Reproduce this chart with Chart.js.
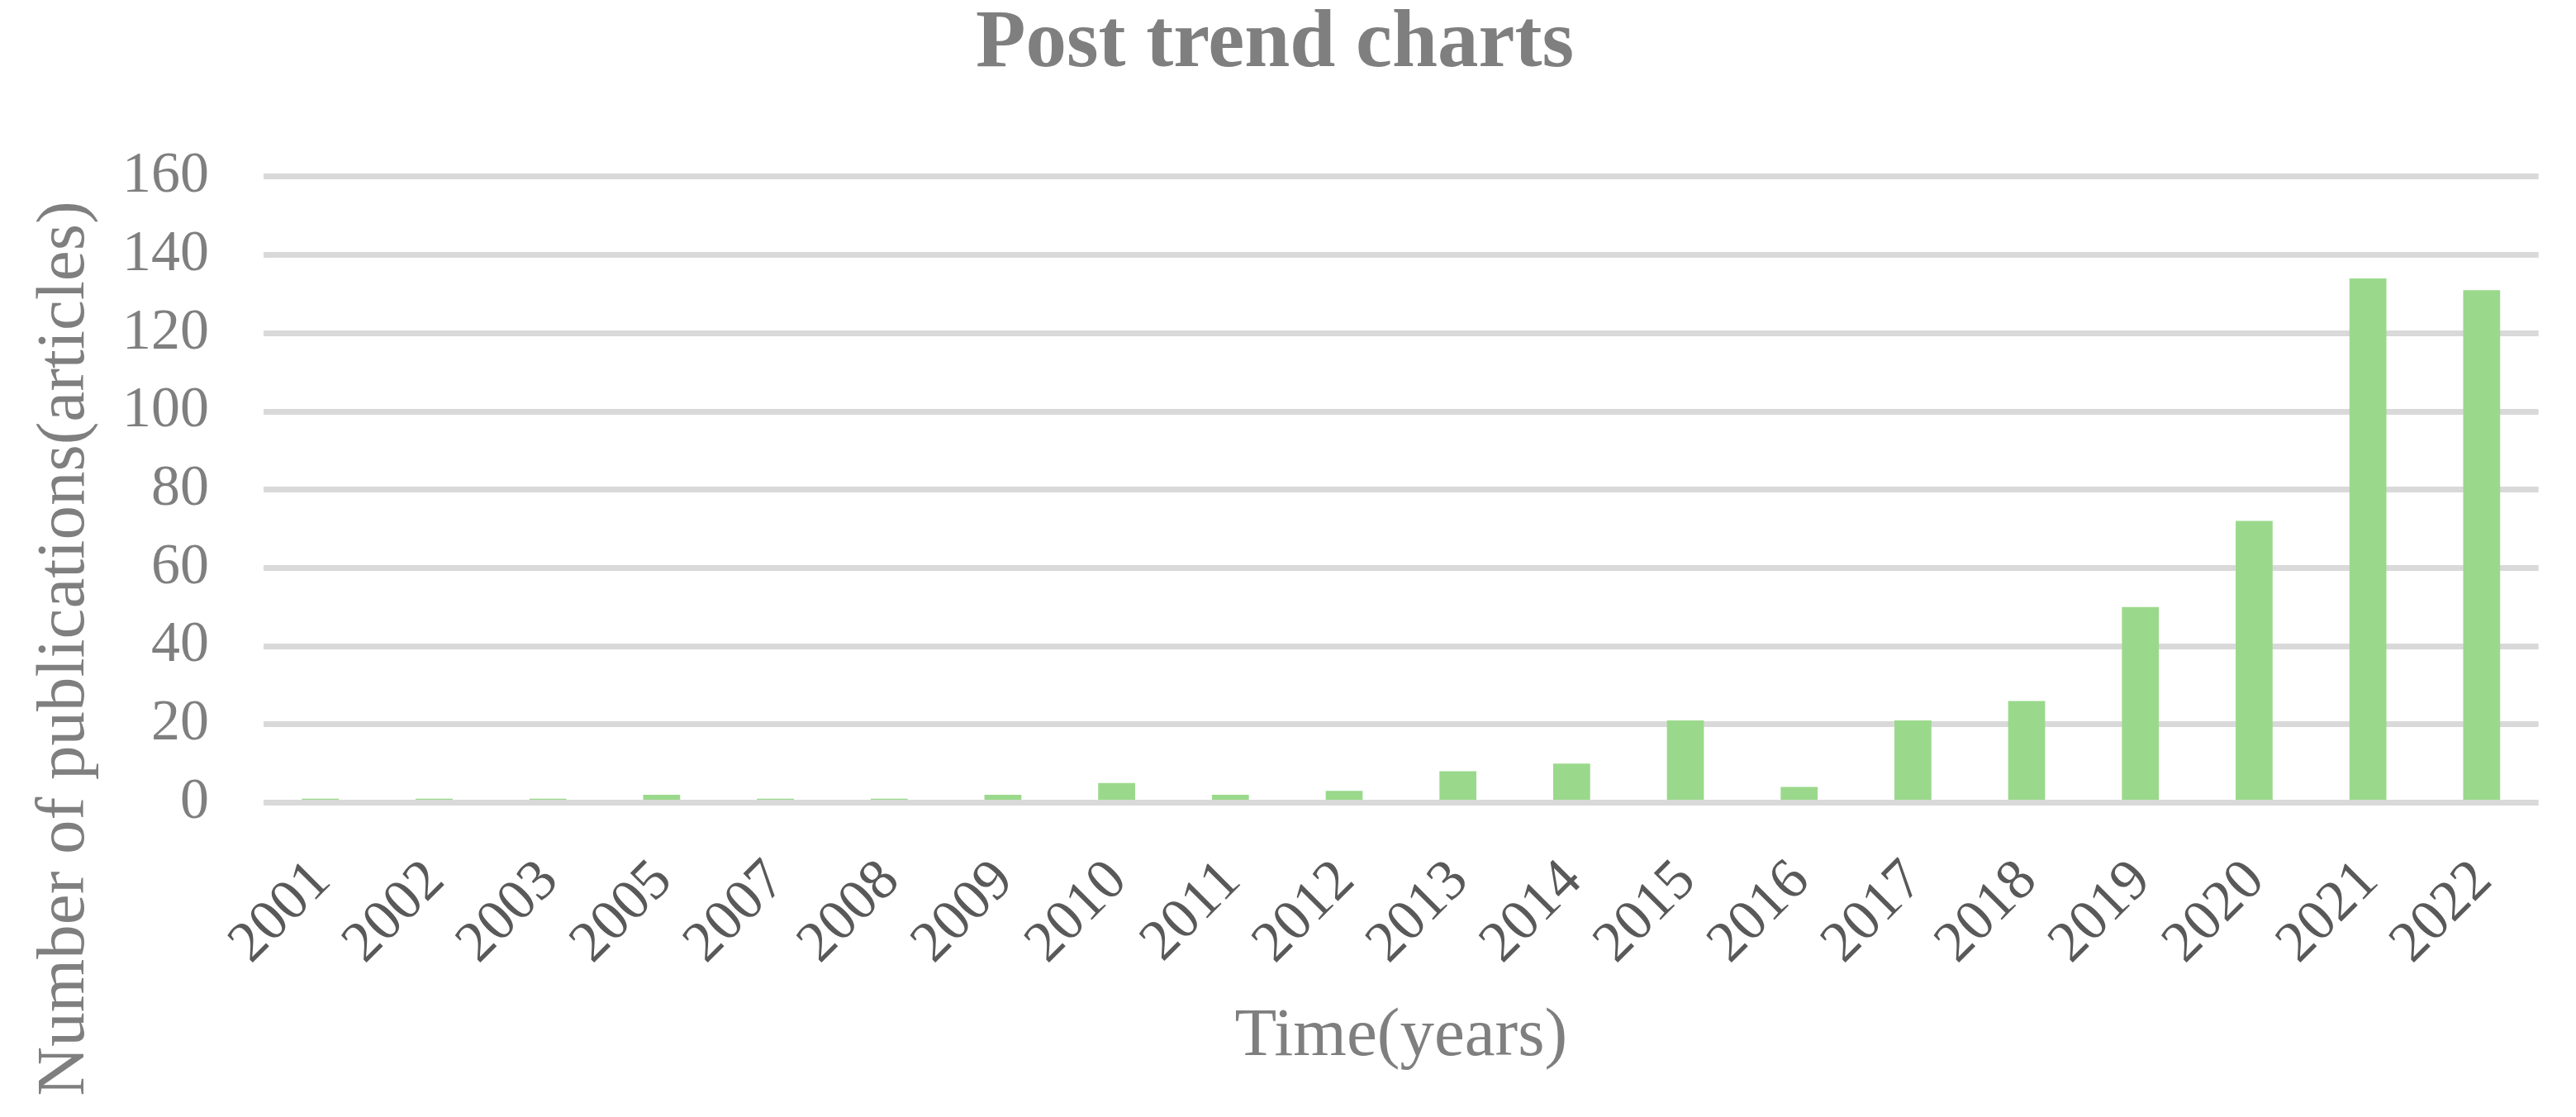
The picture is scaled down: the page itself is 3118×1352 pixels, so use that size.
<!DOCTYPE html>
<html>
<head>
<meta charset="utf-8">
<title>Post trend charts</title>
<script src="https://cdn.jsdelivr.net/npm/chart.js@4.4.1/dist/chart.umd.min.js"></script>
<style>
    html, body { margin: 0; padding: 0; background: #ffffff; }
    #wrap { width: 3118px; height: 1352px; }
</style>
</head>
<body>
<div id="wrap"><canvas id="canvas" width="3118" height="1352"></canvas></div>
<script>
// data
const years = ['2001', '2002', '2003', '2005', '2007', '2008', '2009', '2010', '2011', '2012',
               '2013', '2014', '2015', '2016', '2017', '2018', '2019', '2020', '2021', '2022'];
const publications = [1, 1, 1, 2, 1, 1, 2, 5, 2, 3, 8, 10, 21, 4, 21, 26, 50, 72, 134, 131];
const yTicks = [0, 20, 40, 60, 80, 100, 120, 140, 160];

const chartTitle = 'Post trend charts';
const xTitle = 'Time(years)';
const yTitle = 'Number of publications(articles)';

const serif = '"Liberation Serif", "Times New Roman", serif';

// the y title sits lower than the plot centre in the original, so draw it by hand
const yTitlePlugin = {
    id: 'yTitlePlugin',
    afterDraw(chart) {
        const ctx = chart.ctx;
        ctx.save();
        ctx.translate(101, 785);
        ctx.rotate(-Math.PI / 2);
        ctx.font = '83px ' + serif;
        ctx.fillStyle = '#7f7f7f';
        ctx.textAlign = 'center';
        ctx.textBaseline = 'alphabetic';
        ctx.fillText(yTitle, 0, 0);
        ctx.restore();
    }
};

const ctx = document.getElementById('canvas').getContext('2d');

new Chart(ctx, {
    type: 'bar',
    data: {
        labels: years,
        datasets: [{
            label: 'Publications',
            data: publications,
            backgroundColor: '#9ad98b',
            borderWidth: 0,
            barPercentage: 0.325,
            categoryPercentage: 1.0
        }]
    },
    plugins: [yTitlePlugin],
    options: {
        responsive: false,
        animation: false,
        devicePixelRatio: 1,
        layout: { padding: { left: 0, right: 32, top: 0, bottom: 0 } },
        plugins: {
            legend: { display: false },
            tooltip: { enabled: false },
            title: {
                display: true,
                text: chartTitle,
                color: '#7f7f7f',
                font: { family: serif, size: 99, weight: 'bold', lineHeight: 1.1 },
                padding: { top: 0, bottom: 105 }
            }
        },
        scales: {
            x: {
                grid: { display: false, drawTicks: false },
                border: { display: false },
                ticks: {
                    color: '#595959',
                    font: { family: serif, size: 70 },
                    minRotation: 45,
                    maxRotation: 45,
                    autoSkip: false,
                    padding: 54,
                    labelOffset: 2
                },
                title: {
                    display: true,
                    text: xTitle,
                    color: '#7f7f7f',
                    font: { family: serif, size: 83 },
                    padding: { top: 0, bottom: 47 }
                },
                afterFit: function (scale) {
                    scale.height = 380.5;
                }
            },
            y: {
                min: 0,
                max: 160,
                grid: { color: '#d9d9d9', lineWidth: 7, drawTicks: false },
                border: { display: false },
                ticks: {
                    stepSize: 20,
                    color: '#7f7f7f',
                    font: { family: serif, size: 70 },
                    padding: 66,
                    callback: function (value) {
                        return yTicks.includes(value) ? value : '';
                    }
                },
                afterFit: function (scale) {
                    scale.width = 319;
                }
            }
        }
    }
});
</script>
</body>
</html>
